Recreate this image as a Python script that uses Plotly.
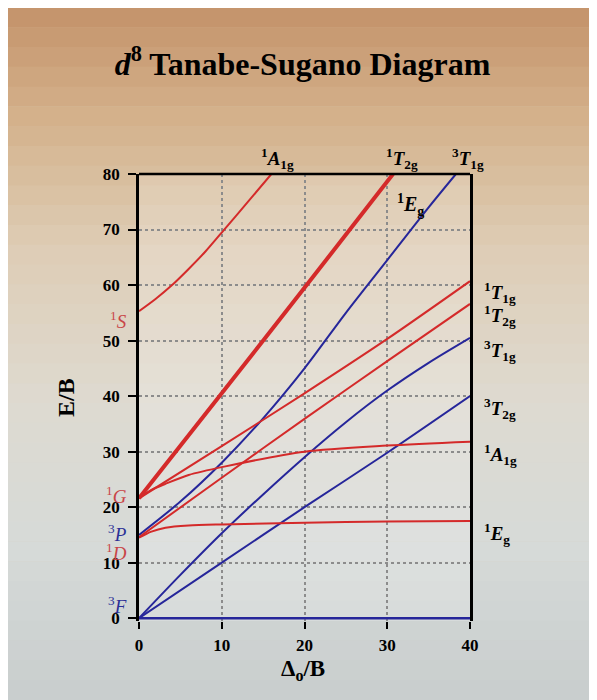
import plotly.graph_objects as go

## DATA ##
# ground state and triplets (blue)
a2g_x = [0, 40]
a2g_y = [0, 0]
t2g_F_x = [0, 10, 20, 30, 40]
t2g_F_y = [0, 10, 20, 29.8, 40]
t1g_F_x = [0, 5, 10, 15, 20, 25, 30, 35, 40]
t1g_F_y = [0, 7.8, 15.3, 22.3, 29, 35.3, 41, 46, 50.5]
t1g_P_x = [0, 5, 10, 15, 20, 25, 30, 35, 38.3]
t1g_P_y = [15, 21, 28, 36, 45, 55, 64.5, 74, 80]

# singlets (red)
a1g_S_x = [0, 2, 4, 6, 8, 10.3, 13, 16]
a1g_S_y = [55.3, 57.5, 60, 62.9, 66, 70, 74.7, 80]
t2g_eg_G_x = [0, 10, 20, 30.7]
t2g_eg_G_y = [21.6, 40.5, 59.5, 80]
t1g_G_x = [0, 10, 20, 30, 40]
t1g_G_y = [21.6, 31, 40.5, 50.3, 60.7]
a1g_G_x = [0, 1.5, 3.2, 6, 10.3, 20, 30, 40]
a1g_G_y = [21.6, 23.1, 24.2, 25.8, 27.3, 30, 31.1, 31.8]
t2g_D_x = [0, 10, 20, 30, 40]
t2g_D_y = [14.6, 25.3, 35.9, 46.3, 56.6]
eg_D_x = [0, 1.5, 3.2, 6, 10, 20, 30, 40]
eg_D_y = [14.5, 15.6, 16.3, 16.7, 16.9, 17.2, 17.4, 17.5]

x_ticks = [0, 10, 20, 30, 40]
y_ticks = [0, 10, 20, 30, 40, 50, 60, 70, 80]

## STYLE ##
RED = '#d42a2a'
BLUE = '#26269a'
RED_TXT = '#c94648'
BLUE_TXT = '#2c3096'
SERIF = 'Liberation Serif'
W, H = 589, 692          # page body keeps an 8px margin
PLOT_BOTTOM = 613        # figure px
PLOT_H = 447

fig = go.Figure()

series = [
    (a2g_x, a2g_y, BLUE, 2.5),
    (t2g_F_x, t2g_F_y, BLUE, 2),
    (t1g_F_x, t1g_F_y, BLUE, 2),
    (t1g_P_x, t1g_P_y, BLUE, 2),
    (a1g_S_x, a1g_S_y, RED, 2),
    (t1g_G_x, t1g_G_y, RED, 2),
    (a1g_G_x, a1g_G_y, RED, 2),
    (t2g_D_x, t2g_D_y, RED, 2),
    (eg_D_x, eg_D_y, RED, 2),
    (t2g_eg_G_x, t2g_eg_G_y, RED, 4),
]
for xs, ys, col, w in series:
    fig.add_trace(go.Scatter(
        x=xs, y=ys,
        mode='lines',
        line=dict(color=col, width=w, shape='spline', smoothing=0.8),
        showlegend=False,
        hoverinfo='skip',
    ))

# photo-like background: vertical gradient bands
stops = [(0, (194, 144, 104)), (120, (212, 178, 140)), (250, (222, 205, 182)),
         (400, (222, 218, 208)), (550, (214, 218, 216)), (700, (200, 205, 205))]
def band_color(py):
    for (y0, c0), (y1, c1) in zip(stops[:-1], stops[1:]):
        if y0 <= py <= y1:
            t = (py - y0) / (y1 - y0)
            return 'rgb(%d,%d,%d)' % tuple(round(a + (b - a) * t) for a, b in zip(c0, c1))
    return 'rgb(%d,%d,%d)' % stops[-1][1]

shapes = []
n = 35
for i in range(n):
    top = H * i / n
    bot = H * (i + 1) / n
    shapes.append(dict(
        type='rect', xref='paper', yref='paper', layer='below',
        x0=-0.5, x1=1.5,
        y0=(PLOT_BOTTOM - bot) / PLOT_H, y1=(PLOT_BOTTOM - top) / PLOT_H + 0.001,
        fillcolor=band_color((top + bot) / 2 + 8), line=dict(width=0),
    ))
shapes.append(dict(type='rect', xref='paper', yref='paper', layer='below',
                   x0=0, x1=1, y0=0, y1=1,
                   fillcolor='rgba(255,255,255,0.18)', line=dict(width=0)))
# top frame line
shapes.append(dict(type='line', xref='paper', yref='paper', x0=0, x1=1, y0=1, y1=1,
                   line=dict(color='black', width=2.5)))

def term(t, low='', sup=''):
    s = f"<sup>{sup}</sup><i>{t}</i>"
    if low:
        s += f"<sub>{low}</sub>"
    return s

annotations = []
# left free-ion terms
for txt, yv, col, dy in [(term('S', sup='1'), 53.7, RED_TXT, 0), (term('G', sup='1'), 21.6, RED_TXT, 3),
                         (term('P', sup='3'), 15.3, BLUE_TXT, 0), (term('D', sup='1'), 11.9, RED_TXT, 0),
                         (term('F', sup='3'), 2.3, BLUE_TXT, 0)]:
    annotations.append(dict(x=0, xref='paper', y=yv, yref='y', text=txt, showarrow=False,
                            xanchor='right', xshift=-10, yshift=dy,
                            font=dict(family=SERIF, size=19, color=col)))
# right labels
for txt, yv in [(term('T', '1g', '1'), 58.6), (term('T', '2g', '1'), 54.6), (term('T', '1g', '3'), 48.3),
                (term('T', '2g', '3'), 37.8), (term('A', '1g', '1'), 29.4), (term('E', 'g', '1'), 15.3),
                (term('A', '2g', '3'), -0.7)]:
    annotations.append(dict(x=40, xref='x', y=yv, yref='y', text=f'<b>{txt}</b>', showarrow=False,
                            xanchor='left', xshift=12, font=dict(family=SERIF, size=19, color='black')))
# top labels
for txt, xv in [(term('A', '1g', '1'), 16.7), (term('T', '2g', '1'), 31.8), (term('T', '1g', '3'), 39.7)]:
    annotations.append(dict(x=xv, xref='x', y=1, yref='paper', text=f'<b>{txt}</b>', showarrow=False,
                            xanchor='center', yanchor='bottom',
                            font=dict(family=SERIF, size=19, color='black')))
annotations.append(dict(x=32.8, xref='x', y=74.4, yref='y', text=f"<b>{term('E', 'g', '1')}</b>",
                        showarrow=False, font=dict(family=SERIF, size=20, color='black')))
# axis titles
annotations.append(dict(x=-0.2205, xref='paper', y=0.499, yref='paper', text='<b>E/B</b>', showarrow=False,
                        xanchor='center', yanchor='middle', textangle=-90,
                        font=dict(family=SERIF, size=24, color='black')))
annotations.append(dict(x=0.495, xref='paper', y=-0.11, yref='paper', text='<b>Δ<sub>o</sub>/B</b>',
                        showarrow=False, xanchor='center', yanchor='middle',
                        font=dict(family=SERIF, size=23, color='black')))

fig.update_layout(
    width=W, height=H,
    margin=dict(l=131, r=127, t=166, b=79),
    paper_bgcolor='rgb(215,205,190)',
    plot_bgcolor='rgba(0,0,0,0)',
    title=dict(text='<b><i>d</i><sup>8</sup> Tanabe-Sugano Diagram</b>',
               x=0.5, xanchor='center', y=0.92, yanchor='middle',
               font=dict(family=SERIF, size=32, color='black')),
    xaxis=dict(
        range=[0, 40],
        tickvals=x_ticks,
        ticks='outside', ticklen=7, tickwidth=2, tickcolor='black',
        showline=False,
        showgrid=True, gridcolor='#8c8c8c', gridwidth=1.5, griddash='dot',
        zeroline=False,
        tickfont=dict(family=SERIF, size=17, color='black', weight='bold'),
        ticklabelstandoff=2,
    ),
    yaxis=dict(
        range=[-0.5, 80],
        tickvals=y_ticks,
        ticks='outside', ticklen=8, tickwidth=2, tickcolor='black',
        showline=True, linecolor='black', linewidth=2.5, mirror=True,
        showgrid=True, gridcolor='#8c8c8c', gridwidth=1.5, griddash='dot',
        zeroline=False,
        tickfont=dict(family=SERIF, size=17, color='black', weight='bold'),
        ticklabelstandoff=5,
    ),
    shapes=shapes,
    annotations=annotations,
)

fig.write_html("out.html")
